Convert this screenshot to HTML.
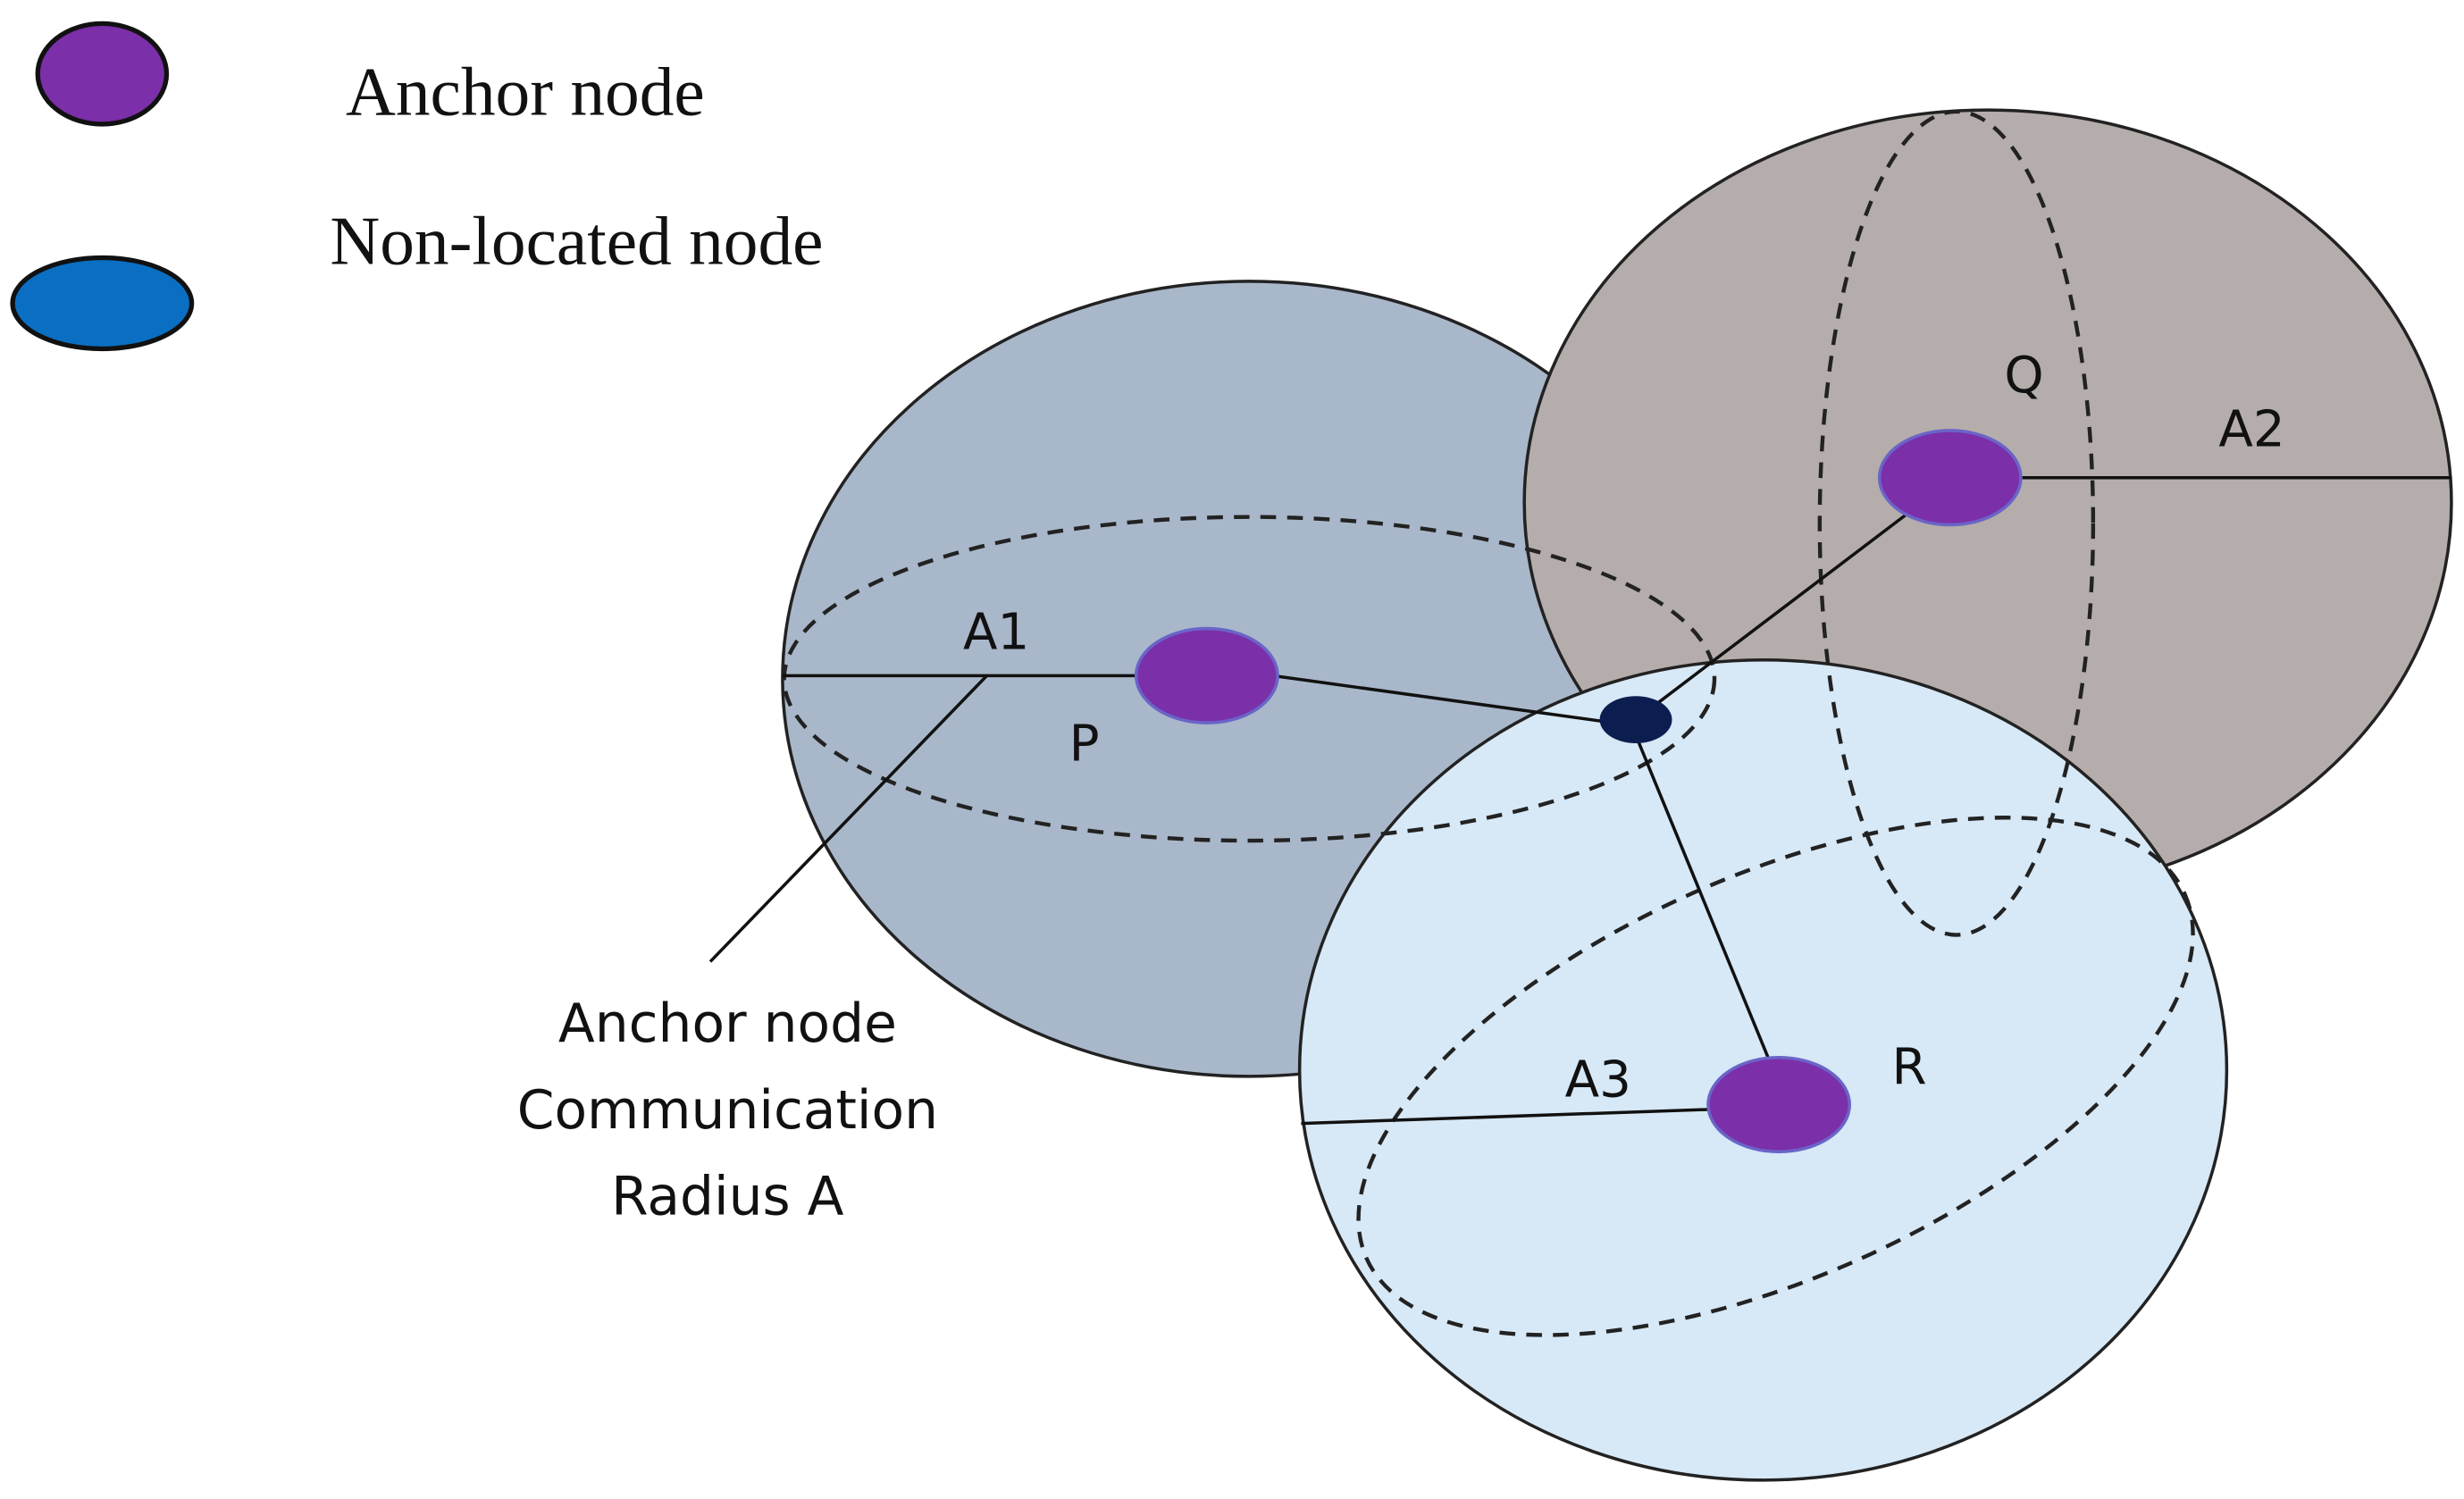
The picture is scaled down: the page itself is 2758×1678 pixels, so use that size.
<!DOCTYPE html>
<html><head><meta charset="utf-8"><style>
html,body{margin:0;padding:0;background:#fff;}
svg{display:block;}
.s{font-family:"DejaVu Sans","Liberation Sans",sans-serif;fill:#111;}
.r{font-family:"Liberation Serif",serif;fill:#111;}
</style></head><body>
<svg width="2758" height="1678" viewBox="0 0 1568 954" preserveAspectRatio="none" xmlns="http://www.w3.org/2000/svg">
<rect width="1568" height="954" fill="#fff"/>
<!-- legend -->
<ellipse cx="65" cy="47" rx="41" ry="32" fill="#7b2fa8" stroke="#111" stroke-width="3"/>
<text x="220" y="73" class="r" font-size="44">Anchor node</text>
<ellipse cx="65" cy="193" rx="57" ry="29" fill="#0a6fc2" stroke="#111" stroke-width="3"/>
<text x="210" y="168" class="r" font-size="44">Non-located node</text>
<!-- spheres -->
<ellipse cx="795" cy="432" rx="297" ry="253" fill="#a9b7ca" stroke="#222" stroke-width="2"/>
<ellipse cx="1265" cy="320" rx="295" ry="250" fill="#b4adab" stroke="#222" stroke-width="2"/>
<ellipse cx="1122" cy="681" rx="295" ry="261" fill="#d7e8f6" stroke="#222" stroke-width="2"/>
<!-- dashed -->
<g fill="none" stroke="#222" stroke-width="2.5" stroke-dasharray="10,7">
<ellipse cx="795" cy="432" rx="296" ry="103"/>
<ellipse cx="1245" cy="333" rx="87" ry="262"/>
<ellipse cx="1130" cy="685" rx="285" ry="128" transform="rotate(-24 1130 685)"/>
</g>
<!-- lines -->
<g stroke="#111" stroke-width="2">
<line x1="498" y1="430" x2="725" y2="430"/>
<line x1="810" y1="430" x2="1041" y2="462"/>
<line x1="1041" y1="458" x2="1215" y2="326"/>
<line x1="1041" y1="468" x2="1128" y2="680"/>
<line x1="1284" y1="304" x2="1560" y2="304"/>
<line x1="828" y1="715" x2="1090" y2="706"/>
<line x1="628" y1="430" x2="452" y2="612"/>
</g>
<!-- nodes -->
<ellipse cx="768" cy="430" rx="45" ry="30" fill="#7b2fa8" stroke="#6a64c8" stroke-width="2"/>
<ellipse cx="1241" cy="304" rx="45" ry="30" fill="#7b2fa8" stroke="#6a64c8" stroke-width="2"/>
<ellipse cx="1132" cy="703" rx="45" ry="30" fill="#7b2fa8" stroke="#6a64c8" stroke-width="2"/>
<ellipse cx="1041" cy="458" rx="23" ry="15" fill="#0c1e50"/>
<!-- labels -->
<g class="s" font-size="32" text-anchor="middle">
<text x="634" y="413">A1</text>
<text x="690" y="484">P</text>
<text x="1288" y="250">Q</text>
<text x="1433" y="284">A2</text>
<text x="1017" y="698">A3</text>
<text x="1215" y="690">R</text>
<text x="463" y="663" font-size="34">Anchor node</text>
<text x="463" y="718" font-size="34">Communication</text>
<text x="463" y="773" font-size="34">Radius A</text>
</g>
</svg>
</body></html>
